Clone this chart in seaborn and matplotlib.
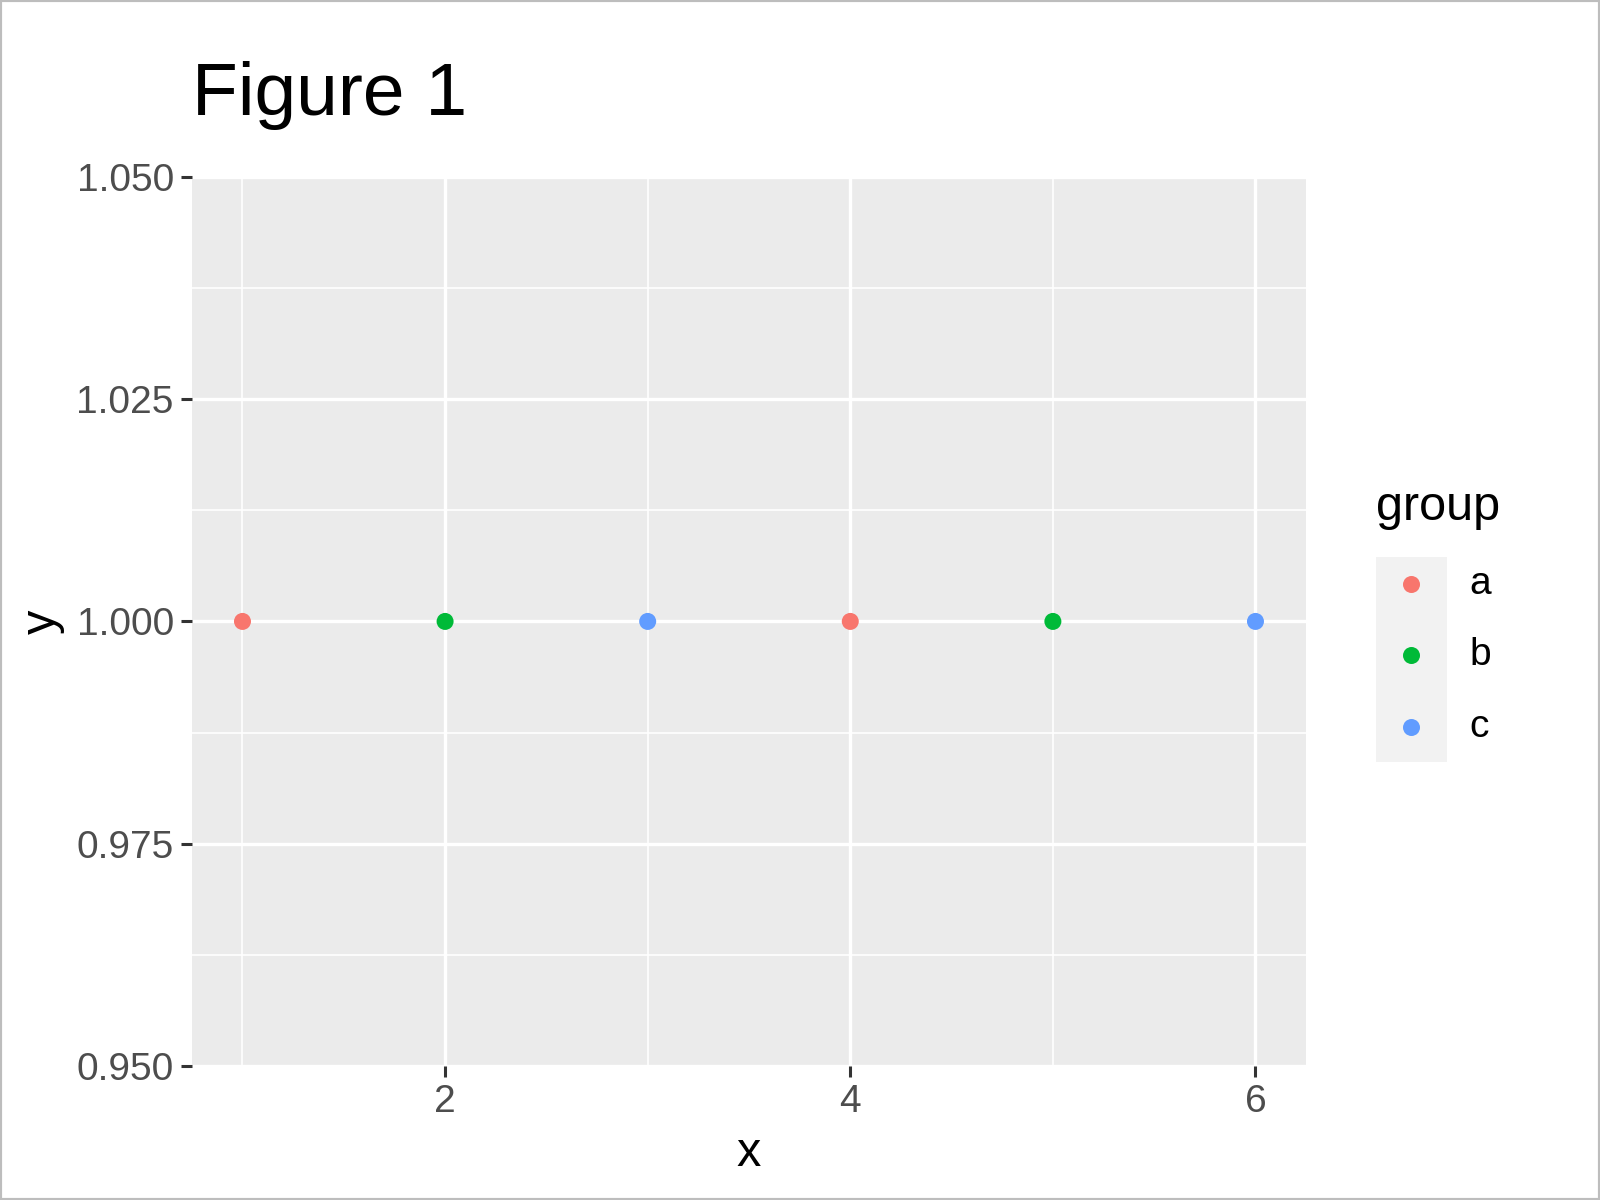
import matplotlib
matplotlib.use("Agg")
import matplotlib.pyplot as plt
import seaborn as sns
import pandas as pd
from matplotlib.ticker import FixedLocator, FormatStrFormatter
from matplotlib.patches import Rectangle

x_vals = [1, 2, 3, 4, 5, 6]
y_vals = [1, 1, 1, 1, 1, 1]
groups = ["a", "b", "c", "a", "b", "c"]
group_levels = ["a", "b", "c"]
group_colors = ["#F8766D", "#00BA38", "#619CFF"]
x_major = [2, 4, 6]
x_minor = [1, 3, 5]
y_major = [0.950, 0.975, 1.000, 1.025, 1.050]
y_minor = [0.9625, 0.9875, 1.0125, 1.0375]

df = pd.DataFrame({"x": x_vals, "y": y_vals, "group": groups})
palette = dict(zip(group_levels, group_colors))

sns.set_theme(style="white")
plt.rcParams["font.family"] = ["Liberation Sans", "DejaVu Sans"]

W, H = 1568, 1176
fig = plt.figure(figsize=(16, 12), dpi=100)
fx = lambda px: px / W
fy = lambda py: 1 - py / H

ax = fig.add_axes([fx(188), fy(1045), fx(1280) - fx(188), fy(173) - fy(1045)])
ax.set_facecolor("#EBEBEB")
for s in ax.spines.values():
    s.set_visible(False)

ax.xaxis.set_major_locator(FixedLocator(x_major))
ax.xaxis.set_minor_locator(FixedLocator(x_minor))
ax.yaxis.set_major_locator(FixedLocator(y_major))
ax.yaxis.set_minor_locator(FixedLocator(y_minor))
ax.yaxis.set_major_formatter(FormatStrFormatter("%.3f"))
ax.grid(which="major", color="white", linewidth=2.4)
ax.grid(which="minor", color="white", linewidth=1.2)
ax.set_axisbelow(True)

sns.scatterplot(data=df, x="x", y="y", hue="group", palette=palette,
                hue_order=group_levels, s=150, linewidth=0, legend=False,
                ax=ax, zorder=3)

ax.set_xlim(0.75, 6.25)
ax.set_ylim(0.95, 1.05)

ax.tick_params(axis="both", which="major", length=8, width=2.2, color="#333333",
               labelsize=28, labelcolor="#4D4D4D", pad=5, left=True, bottom=True)
ax.tick_params(axis="both", which="minor", length=0)
ax.set_xlabel("x", fontsize=35, color="black", labelpad=8)
ax.set_ylabel("y", fontsize=35, color="black", labelpad=8)
ax.set_title("Figure 1", loc="left", fontsize=54, color="black", pad=44)

# legend
lax = fig.add_axes([fx(1348), fy(747), fx(1418) - fx(1348), fy(546) - fy(747)])
lax.set_facecolor("#F2F2F2")
for s in lax.spines.values():
    s.set_visible(False)
lax.set_xticks([])
lax.set_yticks([])
lax.set_xlim(0, 70)
lax.set_ylim(747, 546)
key_y = [572, 642, 712]
for lvl, col, ky in zip(group_levels, group_colors, key_y):
    lax.scatter([35], [ky], s=150, color=col, linewidth=0)
    fig.text(fx(1440), fy(ky), lvl, fontsize=28, color="black", va="center", ha="left")
fig.text(fx(1348), fy(510), "group", fontsize=35, color="black", va="baseline", ha="left")

fig.patches.append(Rectangle((0, 0), 1, 1, transform=fig.transFigure, fill=False,
                             edgecolor="#BDBDBD", linewidth=3))

fig.savefig("out.png", dpi=100, facecolor="white")
